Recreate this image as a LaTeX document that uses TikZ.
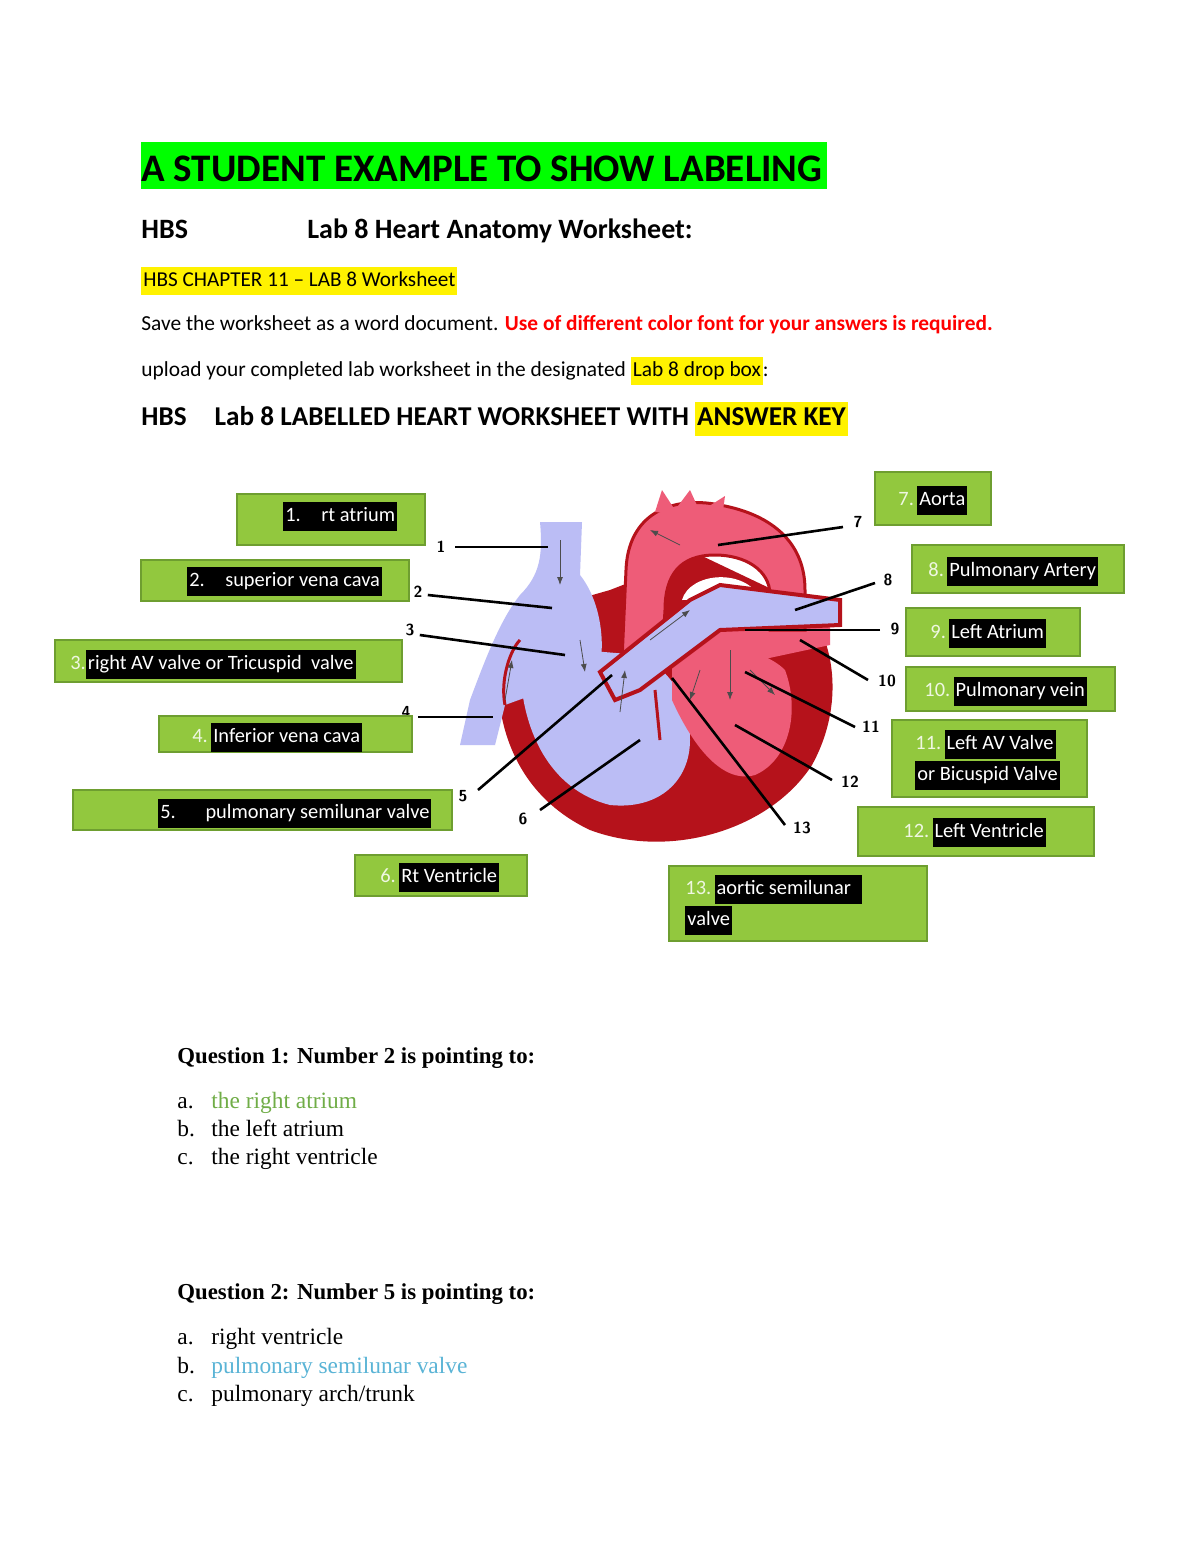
\documentclass[tikz,border=0pt]{standalone}
\usepackage{fontspec}
\setmainfont{Carlito}
\newfontfamily\serifq{Liberation Serif}
\definecolor{lgreen}{HTML}{92C83E}
\definecolor{dgreen}{HTML}{6E9E30}
\definecolor{hred}{HTML}{B5121B}
\definecolor{hpink}{HTML}{EE5C78}
\definecolor{hblue}{HTML}{BBBDF5}
\definecolor{ansgreen}{HTML}{70AD47}
\definecolor{ansblue}{HTML}{5AB4D6}
\setlength{\fboxsep}{1pt}
\newcommand{\hlb}[1]{\colorbox{black}{\textcolor{white}{\strut #1}}}
\newcommand{\hly}[1]{\colorbox{yellow}{\strut #1}}
\newcommand{\numw}[1]{\textcolor{white!85!lgreen}{#1}}
\tikzset{
  gbox/.style={fill=lgreen,draw=dgreen,line width=1.2pt},
  lbl/.style={font=\fontsize{10.2}{12.5}\selectfont,anchor=west,inner sep=0pt,align=left},
  num/.style={font=\sffamily\bfseries\fontsize{8}{9}\selectfont,inner sep=0pt},
  pl/.style={line width=1.3pt,black},
  sarr/.style={-{Latex[length=4pt]},thin,black!70},
  qtext/.style={font=\serifq\fontsize{11.7}{13}\selectfont,anchor=base west,inner sep=0pt},
  htext/.style={anchor=base west,inner sep=0pt}
}
\usetikzlibrary{arrows.meta}
\begin{document}
\begin{tikzpicture}[x=0.5pt,y=-0.5pt]
\useasboundingbox (0,0) rectangle (1200,1553);
\fill[white] (0,0) rectangle (1200,1553);
% header
\fill[green] (141,142) rectangle (827,189);
\node[htext,font=\bfseries\fontsize{19.5}{21}\selectfont] (title) at (141,181) {A STUDENT EXAMPLE TO SHOW LABELING};
\node[htext,font=\bfseries\fontsize{14}{16}\selectfont] (hbs) at (141,238) {HBS};
\node[htext,font=\bfseries\fontsize{14}{16}\selectfont] (lab) at (307,238) {Lab 8 Heart Anatomy Worksheet:};
\node[htext,font=\fontsize{10.6}{12}\selectfont] (chap) at (141,286) {\hly{HBS CHAPTER 11 -- LAB 8 Worksheet}};
\node[htext,font=\fontsize{10.7}{12}\selectfont] (save) at (141,330) {Save the worksheet as a word document. \textcolor{red}{\bfseries Use of different color font for your answers is required.}};
\node[htext,font=\fontsize{10.7}{12}\selectfont] (upl) at (141,376) {upload your completed lab worksheet in the designated \hly{Lab 8 drop box}:};
\node[htext,font=\bfseries\fontsize{13.6}{15}\selectfont] (hbs2) at (141,425) {HBS\hspace{14pt}Lab 8 LABELLED HEART WORKSHEET WITH \hly{ANSWER KEY}};
% heart body
\fill[hred] (505,620) .. controls (485,700) and (505,790) .. (590,830) .. controls (670,860) and (770,830) .. (812,765) .. controls (845,705) and (835,640) .. (805,605) -- (700,555) -- (610,590) -- cycle;
\fill[hblue] (520,660) .. controls (520,730) and (550,790) .. (610,805) .. controls (660,810) and (690,780) .. (690,740) .. controls (690,700) and (670,670) .. (640,655) -- (580,650) -- cycle;
\fill[hpink] (672,655) .. controls (700,640) and (760,645) .. (785,670) .. controls (800,710) and (790,760) .. (755,775) .. controls (720,785) and (690,740) .. (672,700) -- cycle;
% left atrium
\fill[hpink] (680,640) -- (700,610) -- (830,615) -- (830,645) -- (760,660) -- (700,660) -- cycle;
% aorta arch
\fill[hpink,draw=hred,line width=1.5pt] (622,660) -- (626,570) .. controls (628,515) and (670,495) .. (720,505) .. controls (775,515) and (805,545) .. (805,590) -- (805,630) -- (770,630) -- (770,595) .. controls (770,570) and (745,555) .. (715,555) .. controls (680,555) and (665,575) .. (665,610) -- (662,660) -- cycle;
\fill[hpink] (655,512) -- (662,490) -- (675,510) -- (690,490) -- (700,512) -- (725,496) -- (722,518) -- cycle;
\fill[white] (682,600) .. controls (690,572) and (745,568) .. (760,598) -- cycle;
% right atrium SVC IVC
\fill[hblue] (540,522) -- (582,522) -- (580,575) .. controls (600,600) and (605,640) .. (600,665) -- (590,690) -- (560,685) -- (505,705) -- (495,745) -- (460,745) -- (470,700) .. controls (485,660) and (500,620) .. (520,595) .. controls (540,575) and (543,555) .. (540,522) -- cycle;
\draw[hred,line width=1.5pt] (505,705) .. controls (500,680) and (510,650) .. (520,640);
% pulmonary artery
\fill[hblue,draw=hred,line width=2pt] (600,672) -- (690,600) -- (720,585) -- (840,600) -- (840,625) -- (720,630) -- (640,690) -- (615,700) -- cycle;
\draw[hred,line width=1.5pt] (655,690) -- (660,740);
% small flow arrows
\draw[sarr] (560,540) -- (560,585);
\draw[sarr] (580,640) -- (585,672);
\draw[sarr] (505,700) -- (512,660);
\draw[sarr] (620,712) -- (625,670);
\draw[sarr] (650,640) -- (690,610);
\draw[sarr] (680,545) -- (650,530);
\draw[sarr] (730,650) -- (730,700);
\draw[sarr] (700,670) -- (690,700);
\draw[sarr] (750,670) -- (775,695);
% numbers and pointer lines
\node[num] (n1) at (441,547) {1};  \coordinate (p1) at (548,547);  \draw[pl] (455,547) -- (p1);
\node[num] (n2) at (418,592) {2};  \coordinate (p2) at (552,608);  \draw[pl] (n2.east) ++(5,3) -- (p2);
\node[num] (n3) at (410,630) {3};  \coordinate (p3) at (565,655);  \draw[pl] (n3.east) ++(5,5) -- (p3);
\node[num] (n4) at (406,712) {4};  \coordinate (p4) at (493,717);  \draw[pl] (418,717) -- (p4);
\node[num] (n5) at (463,796) {5};  \coordinate (p5) at (612,675);  \draw[pl] (478,790) -- (p5);
\node[num] (n6) at (523,819) {6};  \coordinate (p6) at (640,740);  \draw[pl] (540,810) -- (p6);
\node[num] (n7) at (858,522) {7};  \coordinate (p7) at (718,545);  \draw[pl] (843,527) -- (p7);
\node[num] (n8) at (888,580) {8};  \coordinate (p8) at (795,610);  \draw[pl] (875,583) -- (p8);
\node[num] (n9) at (895,629) {9};  \coordinate (p9) at (745,630);  \draw[pl] (880,630) -- (p9);
\node[num] (n10) at (887,681) {10}; \coordinate (p10) at (800,640); \draw[pl] (868,680) -- (p10);
\node[num] (n11) at (871,727) {11}; \coordinate (p11) at (745,672); \draw[pl] (855,727) -- (p11);
\node[num] (n12) at (850,782) {12}; \coordinate (p12) at (735,725); \draw[pl] (832,780) -- (p12);
\node[num] (n13) at (802,828) {13}; \coordinate (p13) at (672,678); \draw[pl] (785,825) -- (p13);
% label boxes
\draw[gbox] (237,494) rectangle (425,545);
\node[lbl] (b1) at (283,516) {\hlb{1.\quad rt atrium}};
\draw[gbox] (141,560) rectangle (409,601);
\node[lbl] (b2) at (187,581) {\hlb{2.\quad superior vena cava}};
\draw[gbox] (55,640) rectangle (402,682);
\node[lbl] (b3) at (70,664) {\numw{3.}\hlb{right AV valve or Tricuspid\ \ valve}};
\draw[gbox] (159,716) rectangle (412,752);
\node[lbl] (b4) at (192,737) {\numw{4.}\,\hlb{Inferior vena cava}};
\draw[gbox] (73,790) rectangle (452,830);
\node[lbl] (b5) at (158,813) {\hlb{5.\quad\ \ pulmonary semilunar valve}};
\draw[gbox] (355,855) rectangle (527,896);
\node[lbl] (b6) at (380,877) {\numw{6.}\,\hlb{Rt Ventricle}};
\draw[gbox] (875,472) rectangle (991,525);
\node[lbl] (b7) at (898,500) {\numw{7.}\,\hlb{Aorta}};
\draw[gbox] (912,545) rectangle (1124,593);
\node[lbl] (b8) at (928,571) {\numw{8.}\,\hlb{Pulmonary Artery}};
\draw[gbox] (906,608) rectangle (1080,656);
\node[lbl] (b9) at (930,633) {\numw{9.}\,\hlb{Left Atrium}};
\draw[gbox] (906,667) rectangle (1115,711);
\node[lbl] (b10) at (924,691) {\numw{10.}\,\hlb{Pulmonary vein}};
\draw[gbox] (892,720) rectangle (1087,797);
\node[lbl] (b11) at (915,760) {\numw{11.}\,\hlb{Left AV Valve}\\\hlb{or Bicuspid Valve}};
\draw[gbox] (858,807) rectangle (1094,856);
\node[lbl] (b12) at (903,832) {\numw{12.}\,\hlb{Left Ventricle}};
\draw[gbox] (669,866) rectangle (927,941);
\node[lbl] (b13) at (685,905) {\numw{13.}\,\hlb{aortic semilunar\ \ }\\\hlb{valve}};
% questions
\node[qtext,font=\serifq\bfseries\fontsize{11.4}{13}\selectfont] (q1) at (177,1063) {Question 1: Number 2 is pointing to:};
\node[qtext] (q1a) at (177,1108) {a.};
\node[qtext,text=ansgreen] (q1at) at (211,1108) {the right atrium};
\node[qtext] (q1b) at (177,1136) {b.};
\node[qtext] (q1bt) at (211,1136) {the left atrium};
\node[qtext] (q1c) at (177,1164) {c.};
\node[qtext] (q1ct) at (211,1164) {the right ventricle};
\node[qtext,font=\serifq\bfseries\fontsize{11.4}{13}\selectfont] (q2) at (177,1299) {Question 2: Number 5 is pointing to:};
\node[qtext] (q2a) at (177,1344) {a.};
\node[qtext] (q2at) at (211,1344) {right ventricle};
\node[qtext] (q2b) at (177,1373) {b.};
\node[qtext,text=ansblue] (q2bt) at (211,1373) {pulmonary semilunar valve};
\node[qtext] (q2c) at (177,1401) {c.};
\node[qtext] (q2ct) at (211,1401) {pulmonary arch/trunk};
\end{tikzpicture}
\end{document}
